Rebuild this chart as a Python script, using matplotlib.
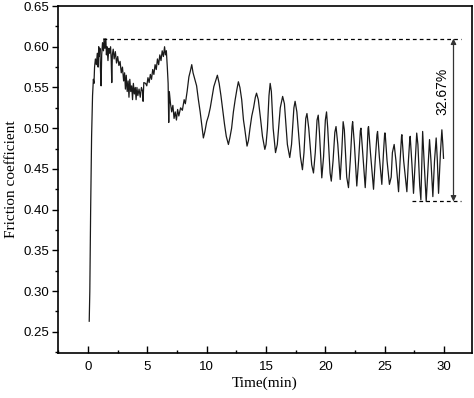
import matplotlib
matplotlib.use('Agg')
import matplotlib.pyplot as plt
from matplotlib.ticker import MultipleLocator

# time (min) and friction coefficient
time_min = [
    0.10, 0.15, 0.22, 0.30, 0.38, 0.45, 0.50, 0.55, 0.62, 0.70, 0.78, 0.85,
    0.90, 0.95, 1.00, 1.05, 1.10, 1.15, 1.22, 1.30, 1.35, 1.42, 1.50, 1.55,
    1.60, 1.68, 1.75, 1.82, 1.90, 1.95, 2.00, 2.05, 2.12, 2.20, 2.30, 2.40,
    2.50, 2.60, 2.70, 2.80, 2.90, 3.00, 3.08, 3.15, 3.22, 3.30, 3.38, 3.45,
    3.52, 3.60, 3.68, 3.75, 3.82, 3.90, 3.98, 4.05, 4.12, 4.20, 4.30, 4.40,
    4.50, 4.60, 4.64, 4.70, 4.85, 4.95, 5.05, 5.15, 5.25, 5.35, 5.45, 5.55,
    5.65, 5.75, 5.85, 5.95, 6.05, 6.15, 6.25, 6.35, 6.45, 6.52, 6.60, 6.68,
    6.75, 6.80, 6.85, 6.95, 7.05, 7.15, 7.25, 7.35, 7.45, 7.55, 7.65, 7.80,
    7.95, 8.10, 8.20, 8.35, 8.50, 8.62, 8.74, 8.85, 9.00, 9.15, 9.30, 9.45,
    9.55, 9.72, 9.85, 10.00, 10.15, 10.30, 10.45, 10.60, 10.75, 10.90, 11.05,
    11.20, 11.35, 11.50, 11.65, 11.83, 11.95, 12.10, 12.25, 12.40, 12.55, 12.67,
    12.80, 12.95, 13.10, 13.20, 13.40, 13.52, 13.65, 13.80, 13.95, 14.10, 14.20,
    14.35, 14.55, 14.70, 14.90, 15.00, 15.12, 15.25, 15.35, 15.45, 15.60, 15.80,
    15.95, 16.20, 16.40, 16.55, 16.80, 17.00, 17.15, 17.35, 17.45, 17.60, 17.90,
    18.07, 18.20, 18.35, 18.45, 18.60, 18.85, 19.00, 19.15, 19.30, 19.40, 19.50,
    19.70, 19.85, 20.00, 20.10, 20.20, 20.40, 20.50, 20.65, 20.80, 20.90, 21.05,
    21.25, 21.38, 21.50, 21.60, 21.80, 21.95, 22.10, 22.25, 22.30, 22.45, 22.65,
    22.80, 22.95, 23.00, 23.15, 23.36, 23.50, 23.60, 23.64, 23.80, 24.06, 24.20,
    24.35, 24.40, 24.55, 24.76, 24.90, 25.00, 25.04, 25.20, 25.40, 25.55, 25.65,
    25.80, 25.95, 26.17, 26.30, 26.42, 26.45, 26.60, 26.87, 27.00, 27.12, 27.15,
    27.30, 27.43, 27.58, 27.70, 27.80, 27.95, 28.05, 28.15, 28.20, 28.32, 28.50,
    28.65, 28.78, 28.90, 29.06, 29.20, 29.34, 29.44, 29.54, 29.70, 29.82, 29.90,
    29.96,
]
friction = [
    0.263, 0.300, 0.400, 0.490, 0.540, 0.560, 0.555, 0.575, 0.585, 0.578, 0.592, 0.575,
    0.600, 0.588, 0.598, 0.570, 0.552, 0.590, 0.605, 0.595, 0.610, 0.598, 0.610, 0.590,
    0.600, 0.583, 0.598, 0.592, 0.600, 0.585, 0.556, 0.590, 0.597, 0.585, 0.594, 0.580,
    0.588, 0.577, 0.582, 0.568, 0.575, 0.558, 0.568, 0.548, 0.565, 0.545, 0.558, 0.538,
    0.560, 0.545, 0.552, 0.535, 0.555, 0.542, 0.550, 0.535, 0.550, 0.540, 0.548, 0.538,
    0.550, 0.545, 0.533, 0.556, 0.555, 0.552, 0.562, 0.556, 0.566, 0.560, 0.572, 0.566,
    0.578, 0.572, 0.585, 0.578, 0.590, 0.583, 0.595, 0.588, 0.600, 0.590, 0.595, 0.575,
    0.555, 0.507, 0.545, 0.530, 0.520, 0.528, 0.512, 0.520, 0.510, 0.523, 0.515, 0.525,
    0.522, 0.535, 0.530, 0.545, 0.563, 0.570, 0.578, 0.568, 0.560, 0.552, 0.535, 0.520,
    0.508, 0.488, 0.496, 0.508, 0.515, 0.525, 0.538, 0.551, 0.558, 0.565, 0.555,
    0.540, 0.522, 0.505, 0.490, 0.480, 0.488, 0.500, 0.520, 0.535, 0.548, 0.557,
    0.550, 0.535, 0.510, 0.500, 0.478, 0.485, 0.500, 0.515, 0.525, 0.538, 0.543,
    0.535, 0.510, 0.490, 0.474, 0.480, 0.500, 0.540, 0.555, 0.545, 0.500, 0.470,
    0.480, 0.525, 0.539, 0.530, 0.480, 0.464, 0.480, 0.525, 0.533, 0.520, 0.465,
    0.449, 0.470, 0.512, 0.518, 0.500, 0.455, 0.445, 0.470, 0.510, 0.516, 0.495,
    0.439, 0.465, 0.510, 0.520, 0.500, 0.445, 0.435, 0.460, 0.495, 0.502, 0.480,
    0.437, 0.470, 0.508, 0.498, 0.440, 0.427, 0.460, 0.502, 0.508, 0.480, 0.429,
    0.460, 0.497, 0.500, 0.470, 0.427, 0.465, 0.500, 0.502, 0.470, 0.425, 0.460,
    0.492, 0.496, 0.465, 0.431, 0.470, 0.494, 0.494, 0.460, 0.431, 0.440, 0.470,
    0.480, 0.460, 0.422, 0.460, 0.490, 0.492, 0.460, 0.422, 0.460, 0.488, 0.490,
    0.455, 0.420, 0.460, 0.494, 0.480, 0.430, 0.412, 0.470, 0.496, 0.460, 0.410,
    0.450, 0.486, 0.460, 0.416, 0.460, 0.488, 0.460, 0.420, 0.470, 0.498, 0.480,
    0.463,
]

f_max = 0.61
f_min = 0.41
drop_label = '32.67%'

fig = plt.figure(figsize=(4.74, 3.98), dpi=100)
ax = fig.add_axes([0.1224, 0.1131, 0.8734, 0.8718])

ax.plot(time_min, friction, color='#1a1a1a', lw=0.9)

# reference lines for max / min and the double arrow
ax.plot([1.3, 31.4], [f_max, f_max], color='black', lw=0.9, ls=(0, (3, 2.5)))
ax.plot([27.3, 31.4], [f_min, f_min], color='black', lw=0.9, ls=(0, (3, 2.5)))
ax.annotate('', xy=(30.8, f_min), xytext=(30.8, f_max),
            arrowprops=dict(arrowstyle='<|-|>', color='#333333', lw=0.9,
                            mutation_scale=8, shrinkA=0, shrinkB=0))
ax.text(29.85, 0.545, drop_label, rotation=90, ha='center', va='center',
        fontsize=10, family='Liberation Sans')

ax.set_xlim(-2.53, 32.36)
ax.set_ylim(0.224, 0.65)
ax.xaxis.set_major_locator(MultipleLocator(5))
ax.xaxis.set_minor_locator(MultipleLocator(2.5))
ax.yaxis.set_minor_locator(MultipleLocator(0.025))
yticks = [0.25, 0.30, 0.35, 0.40, 0.45, 0.50, 0.55, 0.60, 0.65]
ax.set_yticks(yticks)
ax.set_yticklabels([f'{v:.2f}' for v in yticks])

ax.tick_params(axis='x', which='major', direction='in', length=5, width=1, pad=6)
ax.tick_params(axis='x', which='minor', direction='in', length=2.5, width=1)
ax.tick_params(axis='y', which='major', direction='out', length=4, width=1, pad=2)
ax.tick_params(axis='y', which='minor', direction='out', length=2.5, width=1)
for lab in ax.get_xticklabels() + ax.get_yticklabels():
    lab.set_family('Liberation Sans')
    lab.set_fontsize(9.5)

for sp in ax.spines.values():
    sp.set_linewidth(1.2)

ax.set_xlabel('Time(min)', family='Liberation Serif', fontsize=11, labelpad=2)
ax.set_ylabel('Friction coefficient', family='Liberation Serif', fontsize=11, labelpad=4)

fig.savefig('out.png', dpi=100)
